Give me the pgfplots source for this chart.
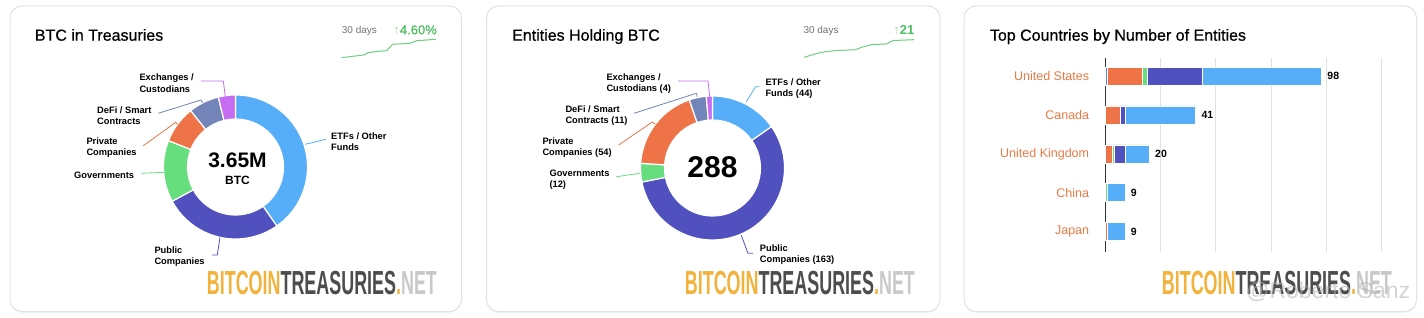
\documentclass[border=0pt]{standalone}
\usepackage{graphicx}
\usepackage{pgfplots}
\pgfplotsset{compat=1.18}
\usepackage{pgfplotstable}
\usepackage{fontspec}
\setmainfont{Liberation Sans}
\newfontfamily\medfont[FakeBold=0.6]{Liberation Sans}

\definecolor{cETF}{HTML}{56AEF8}
\definecolor{cPub}{HTML}{5150BF}
\definecolor{cGov}{HTML}{67DE7E}
\definecolor{cPriv}{HTML}{EE7448}
\definecolor{cDeFi}{HTML}{7384B8}
\definecolor{cExch}{HTML}{C56DF1}
\definecolor{cGreen}{HTML}{6CD07C}
\definecolor{cGreenT}{HTML}{4DBF60}
\definecolor{cGreenA}{HTML}{9BE0A6}
\definecolor{cCountry}{HTML}{EA7A45}
\definecolor{cGold}{HTML}{F3B23C}
\definecolor{cDark}{HTML}{4D4D4D}
\definecolor{cLight}{HTML}{C9C9C9}
\definecolor{cCard}{HTML}{E2E2E2}

\def\Ro{72}\def\Ri{48}
\def\RoD{72bp}\def\RiD{48bp}
\newcommand\seg[3]{\filldraw[fill=#1, draw=white, line width=1.2bp, line join=round]
  (axis cs:{\Ro*cos(#2)},{\Ro*sin(#2)}) arc[start angle=#2, end angle=#3, radius=\RoD]
  -- (axis cs:{\Ri*cos(#3)},{\Ri*sin(#3)}) arc[start angle=#3, end angle=#2, radius=\RiD] -- cycle;}
\newcommand\lbl{\bfseries\fontsize{9.3bp}{11.7bp}\selectfont}
\newcommand\ttl{\medfont\fontsize{16bp}{19bp}\selectfont}

% BTC held (thousand BTC): ETFs, Public, Governments, Private, DeFi, Exchanges
\def\vA{1470}\def\vB{980}\def\vC{505}\def\vD{305}\def\vE{250}\def\vF{140}
% Entities: ETFs, Public, Governments, Private, DeFi, Exchanges
\def\nA{44}\def\nB{163}\def\nC{12}\def\nD{54}\def\nE{11}\def\nF{4}

\pgfplotstableread{
y defi priv gov pub etf total
0 1 16 2 25 54 98
1 0 7 0 2 32 41
2 0 3 1 5 11 20
3 0 0 1 0 8 9
4 0 1 0 0 8 9
}\countries

\pgfplotstableread{
day pct
0 0
7 0.68
8.5 1.25
11.6 1.6
14.3 1.75
16.2 3.35
21.7 3.6
23.9 4.25
30 4.6
}\sparkA

\pgfplotstableread{
day n
0 0
2.9 4
4.8 6
8.4 8
13.9 9
15.7 12
18.4 15
22.5 16
24.3 20
30 21
}\sparkB

\pgfplotsset{barframe/.style={at={(1105.3bp,65.3bp)}, anchor=south west, scale only axis,
  x=2.208bp, y=38.95bp, xmin=0, xmax=125, ymin=-0.475, ymax=4.51, y dir=reverse, clip=false}}

\begin{document}
\begin{tikzpicture}[x=1bp,y=1bp]
\path (0,0) rectangle (1424,317);
% cards
\foreach \xa/\xb in {10/461.5, 486.5/940, 964/1416.5}{
  \fill[black!5, rounded corners=12bp] (\xa+0.5,4) rectangle (\xb-0.5,310);
  \filldraw[fill=white, draw=cCard, line width=1bp, rounded corners=12bp] (\xa,5.5) rectangle (\xb,311);
}
% titles
\node[anchor=base west, inner sep=0] at (34.7,276.3) {\ttl BTC in Treasuries};
\node[anchor=base west, inner sep=0] at (512,276.3) {\ttl Entities Holding BTC};
\node[anchor=base west, inner sep=0] at (989.7,276.3) {\ttl Top Countries by Number of Entities};

% 30 days headers
\node[anchor=base west, inner sep=0, text=black!55, font=\fontsize{10bp}{12bp}\selectfont] at (341.7,283.3) {30 days};
\node[anchor=base east, inner sep=0, font=\fontsize{13bp}{15bp}\selectfont] at (437,282.7) {\textcolor{cGreenA}{↑}\textcolor{cGreenT}{\medfont 4.60\%}};
\node[anchor=base west, inner sep=0, text=black!55, font=\fontsize{10bp}{12bp}\selectfont] at (803.3,283.3) {30 days};
\node[anchor=base east, inner sep=0, font=\fontsize{13bp}{15bp}\selectfont] at (914.5,282.7) {\textcolor{cGreenA}{↑}\textcolor{cGreenT}{\bfseries 21}};

% sparklines
\begin{axis}[at={(341.7bp,259.3bp)}, anchor=south west, scale only axis, width=94.3bp, height=18.4bp,
  xmin=0, xmax=30, ymin=0, ymax=4.6, hide axis, clip=false]
  \addplot[cGreen, line width=1bp, no marks] table[x=day,y=pct]{\sparkA};
\end{axis}
\begin{axis}[at={(804.3bp,259.7bp)}, anchor=south west, scale only axis, width=109.7bp, height=17.6bp,
  xmin=0, xmax=30, ymin=0, ymax=21, hide axis, clip=false]
  \addplot[cGreen, line width=1bp, no marks] table[x=day,y=n]{\sparkB};
\end{axis}

% donut 1 angles
\pgfmathsetmacro\Tot{\vA+\vB+\vC+\vD+\vE+\vF}
\pgfmathsetmacro\dA{90-360*(\vA/\Tot)}
\pgfmathsetmacro\dB{\dA-360*(\vB/\Tot)}
\pgfmathsetmacro\dC{\dB-360*(\vC/\Tot)}
\pgfmathsetmacro\dD{\dC-360*(\vD/\Tot)}
\pgfmathsetmacro\dE{\dD-360*(\vE/\Tot)}
\begin{axis}[at={(235.5bp,150bp)}, anchor=center, scale only axis, x=1bp, y=1bp,
  xmin=-110, xmax=110, ymin=-110, ymax=110, hide axis, clip=false]
  \seg{cETF}{90}{\dA}
  \seg{cPub}{\dA}{\dB}
  \seg{cGov}{\dB}{\dC}
  \seg{cPriv}{\dC}{\dD}
  \seg{cDeFi}{\dD}{\dE}
  \seg{cExch}{\dE}{-270}
  \draw[cExch, line width=0.8bp] (axis cs:-34.5,86) -- (axis cs:-12.2,86) -- (axis cs:-10.2,70.3);
  \draw[cDeFi, line width=0.8bp] (axis cs:-77.2,53.7) -- (axis cs:-34.5,67) -- (axis cs:-32.8,64.3);
  \draw[cPriv, line width=0.8bp] (axis cs:-92.2,21.3) -- (axis cs:-59.8,44.7) -- (axis cs:-58,42.6);
  \draw[cGov, line width=0.8bp] (axis cs:-94.5,-6.3) -- (axis cs:-71.5,-5.3);
  \draw[cPub, line width=0.8bp] (axis cs:-23.5,-88) -- (axis cs:-18.2,-88) -- (axis cs:-15.5,-70.3);
  \draw[cETF, line width=0.8bp] (axis cs:69.8,22.7) -- (axis cs:90.5,27.7);
  \node[anchor=west, align=left, inner sep=0, font=\lbl] at (axis cs:-96.2,83.5) {Exchanges /\\Custodians};
  \node[anchor=west, align=left, inner sep=0, font=\lbl] at (axis cs:-138.5,51.3) {DeFi / Smart\\Contracts};
  \node[anchor=west, align=left, inner sep=0, font=\lbl] at (axis cs:-149.2,19.3) {Private\\Companies};
  \node[anchor=west, align=left, inner sep=0, font=\lbl] at (axis cs:-161.5,-8.7) {Governments};
  \node[anchor=west, align=left, inner sep=0, font=\lbl] at (axis cs:-81.2,-89.5) {Public\\Companies};
  \node[anchor=west, align=left, inner sep=0, font=\lbl] at (axis cs:95.5,25.3) {ETFs / Other\\Funds};
  \node[inner sep=0, font=\bfseries\fontsize{21bp}{24bp}\selectfont] at (axis cs:2,6.5) {3.65M};
  \node[inner sep=0, font=\bfseries\fontsize{12bp}{14bp}\selectfont] at (axis cs:2,-13) {BTC};
\end{axis}

% donut 2 angles
\pgfmathsetmacro\Tn{\nA+\nB+\nC+\nD+\nE+\nF}
\pgfmathsetmacro\eA{90-360*(\nA/\Tn)}
\pgfmathsetmacro\eB{\eA-360*(\nB/\Tn)}
\pgfmathsetmacro\eC{\eB-360*(\nC/\Tn)}
\pgfmathsetmacro\eD{\eC-360*(\nD/\Tn)}
\pgfmathsetmacro\eE{\eD-360*(\nE/\Tn)}
\begin{axis}[at={(712.5bp,149bp)}, anchor=center, scale only axis, x=1bp, y=1bp,
  xmin=-110, xmax=110, ymin=-110, ymax=110, hide axis, clip=false]
  \seg{cETF}{90}{\eA}
  \seg{cPub}{\eA}{\eB}
  \seg{cGov}{\eB}{\eC}
  \seg{cPriv}{\eC}{\eD}
  \seg{cDeFi}{\eD}{\eE}
  \seg{cExch}{\eE}{-270}
  \draw[cExch, line width=0.8bp] (axis cs:-34.5,87) -- (axis cs:-4.5,87) -- (axis cs:-2.8,71.3);
  \draw[cDeFi, line width=0.8bp] (axis cs:-78.5,54.7) -- (axis cs:-16.2,74.7) -- (axis cs:-15.2,71.3);
  \draw[cPriv, line width=0.8bp] (axis cs:-93.8,23) -- (axis cs:-60.2,46) -- (axis cs:-57.1,43.8);
  \draw[cGov, line width=0.8bp] (axis cs:-96.2,-8.7) -- (axis cs:-72.8,-5.3);
  \draw[cPub, line width=0.8bp] (axis cs:40.5,-85.3) -- (axis cs:35.5,-85.3) -- (axis cs:28.8,-67.3);
  \draw[cETF, line width=0.8bp] (axis cs:47.2,81.3) -- (axis cs:43.2,81.3) -- (axis cs:33.8,66.3);
  \node[anchor=west, align=left, inner sep=0, font=\lbl] at (axis cs:-106.2,84.5) {Exchanges /\\Custodians (4)};
  \node[anchor=west, align=left, inner sep=0, font=\lbl] at (axis cs:-147.2,52.3) {DeFi / Smart\\Contracts (11)};
  \node[anchor=west, align=left, inner sep=0, font=\lbl] at (axis cs:-170.2,20.3) {Private\\Companies (54)};
  \node[anchor=west, align=left, inner sep=0, font=\lbl] at (axis cs:-163.2,-11.7) {Governments\\(12)};
  \node[anchor=west, align=left, inner sep=0, font=\lbl] at (axis cs:47.2,-86.7) {Public\\Companies (163)};
  \node[anchor=west, align=left, inner sep=0, font=\lbl] at (axis cs:52.8,79.3) {ETFs / Other\\Funds (44)};
  \node[inner sep=0, font=\bfseries\fontsize{30bp}{34bp}\selectfont] at (axis cs:0,1.3) {288};
\end{axis}

% bar chart
\begin{axis}[barframe,
  xbar stacked, bar width=18bp,
  axis line style={draw=none}, tick style={draw=none}, major tick length=0,
  xtick={25,50,75,100,125}, xticklabels={}, xmajorgrids,
  grid style={black!12, line width=0.8bp},
  ytick={0,1,2,3,4},
  yticklabels={United States, Canada, United Kingdom, China, Japan},
  yticklabel style={text=cCountry, anchor=east, inner sep=0pt, xshift=-16bp,
    font=\fontsize{12.5bp}{14bp}\selectfont}]
  \addplot[fill=cDeFi, draw=white, line width=0.8bp] table[x=defi, y=y]{\countries};
  \addplot[fill=cPriv, draw=white, line width=0.8bp] table[x=priv, y=y]{\countries};
  \addplot[fill=cGov, draw=white, line width=0.8bp] table[x=gov, y=y]{\countries};
  \addplot[fill=cPub, draw=white, line width=0.8bp] table[x=pub, y=y]{\countries};
  \addplot[fill=cETF, draw=white, line width=0.8bp] table[x=etf, y=y]{\countries};
  \draw[black!80, line width=1bp] (axis cs:0,-0.475) -- (axis cs:0,4.51);
\end{axis}
% totals
\begin{axis}[barframe, hide axis]
  \addplot[draw=none, no marks, point meta=explicit symbolic,
    nodes near coords,
    nodes near coords style={anchor=west, inner sep=0pt, xshift=5.5bp, text=black,
      font=\bfseries\fontsize{10.5bp}{12bp}\selectfont}]
    table[x=total, y=y, meta=total]{\countries};
\end{axis}

% logos
\foreach \lx in {206.7, 684.7, 1161.7}{
  \node[anchor=south west, inner sep=0] at (\lx,22) {\resizebox{230bp}{23.3bp}{\bfseries\textcolor{cGold}{BITCOIN}\textcolor{cDark}{TREASURIES}\textcolor{cGold}{.}\textcolor{cLight}{NET}}};
}
% watermark
\node[anchor=west, inner sep=0, text=black!30, opacity=0.55, font=\fontsize{23bp}{25bp}\selectfont] at (1246,25.3) {@Roberto Sanz};
\end{tikzpicture}
\end{document}
